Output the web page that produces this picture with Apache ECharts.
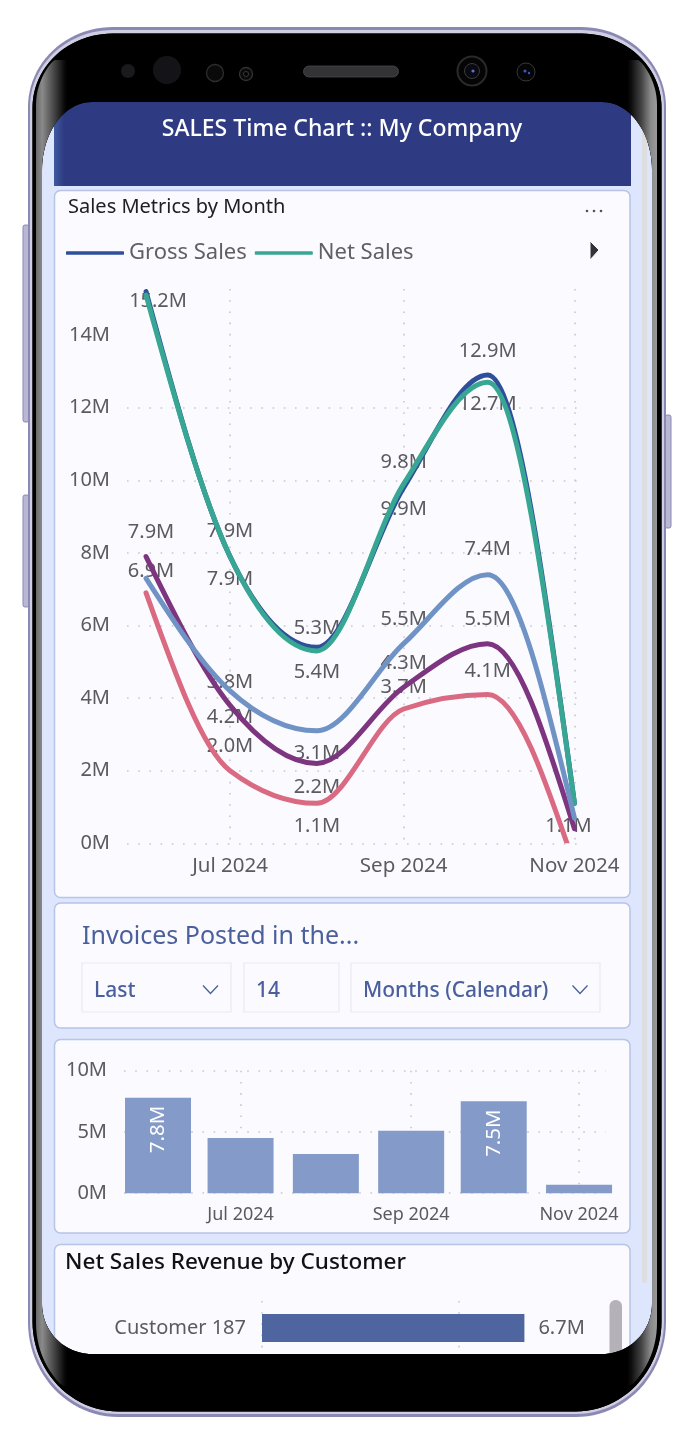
<!DOCTYPE html>
<html><head><meta charset="utf-8">
<script src="https://cdn.jsdelivr.net/npm/echarts@6/dist/echarts.min.js"></script>
<style>html,body{margin:0;background:#fff}#c{width:694px;height:1456px}</style></head>
<body><div id="c"></div>
<script>
// ---------- data ----------
const monthDates = ['2024-06-01','2024-07-01','2024-08-01','2024-09-01','2024-10-01','2024-11-01'];
const monthLabels = ['Jun 2024','Jul 2024','Aug 2024','Sep 2024','Oct 2024','Nov 2024'];
const shownMonths = ['2024-07-01','2024-09-01','2024-11-01'];
const grossSales = [15.2, 7.9, 5.4, 9.8, 12.9, 1.1];
const netSales   = [15.1, 7.9, 5.3, 9.9, 12.7, 1.1];
const metricC    = [7.3, 4.2, 3.1, 5.5, 7.4, 0.7];
const metricD    = [7.9, 3.8, 2.2, 4.3, 5.5, 0.4];
const metricE    = [6.9, 2.0, 1.1, 3.7, 4.1, -0.6];
const invoiceTotals = [7.8, 4.5, 3.2, 5.1, 7.5, 0.7];
const customers = ['Customer 187'];
const customerRevenue = [6.66];
const yTicksMain = [0,2,4,6,8,10,12,14];

// ---------- layout (label placement, px from the point; null = no label) ----------
const offGross = [[12,9],[0,-26],[0,24],[0,-26],[0,-25],[-6,22]];
const offNet   = [null,[0,22],[0,-24],[0,24],[0,21],null];
const offC     = [null,[0,25],[0,22],[0,-25],[0,-26],null];
const offD     = [[5,-25],[0,-24],[0,23],[0,-25],[0,-25],null];
const offE     = [[5,-23],[0,-25],[0,22],[0,-23],[0,-24],null];
const LABEL_DY = 1;

const FONT = '"Noto Sans"';
const DAY = 86400000;
// the x axes are continuous: a month sits at its day number counted from the first month
const dayOf = d => (Date.parse(d + 'T00:00:00Z') - Date.parse(monthDates[0] + 'T00:00:00Z')) / DAY;
const ts = monthDates.map(dayOf);
const tsShown = shownMonths.map(dayOf);
const labelOf = v => { const i = ts.indexOf(+v); return i >= 0 ? monthLabels[i] : ''; };
const fmt = v => v.toFixed(1) + 'M';
const dotted = {show:true, lineStyle:{type:[1.6,9.6], color:'#c5c7d6', width:1.6}};

// monotone-x cubic through the points, in pixels obtained from the axes
function monotonePath(p){
  const n = p.length, sign = v => v < 0 ? -1 : 1, t = new Array(n);
  const s = i => (p[i+1][1]-p[i][1])/(p[i+1][0]-p[i][0]);
  for (let i=1;i<n-1;i++){
    const h0=p[i][0]-p[i-1][0], h1=p[i+1][0]-p[i][0], s0=s(i-1), s1=s(i), q=(s0*h1+s1*h0)/(h0+h1);
    t[i]=(sign(s0)+sign(s1))*Math.min(Math.abs(s0),Math.abs(s1),0.5*Math.abs(q)) || 0;
  }
  t[0]=(3*s(0)-t[1])/2; t[n-1]=(3*s(n-2)-t[n-2])/2;
  let d='M'+p[0][0]+' '+p[0][1];
  for (let i=0;i<n-1;i++){
    const dx=(p[i+1][0]-p[i][0])/3;
    d+=' C'+(p[i][0]+dx)+' '+(p[i][1]+dx*t[i])+' '+(p[i+1][0]-dx)+' '+(p[i+1][1]-dx*t[i+1])+' '+p[i+1][0]+' '+p[i+1][1];
  }
  return d;
}

function metricSeries(name, values, color, offs, z){
  const points = values.map((v,i)=>[ts[i],v]);
  return [
    { // carries the legend entry and the value labels; the curve itself is drawn by the custom series
      type:'line', name, xAxisIndex:0, yAxisIndex:0, z:2,
      symbol:'circle', symbolSize:1, showSymbol:true, clip:true,
      itemStyle:{color}, lineStyle:{width:0,opacity:0},
      data: points.map((pt,i)=>{
        const o = offs[i];
        return {value:pt, label: o ? {show:true, position:'inside', offset:[o[0],o[1]+LABEL_DY], formatter:fmt(pt[1]),
          fontFamily:FONT, fontSize:20, color:'#5a5a5f'} : {show:false}};
      })
    },
    {
      type:'custom', name:name+' curve', xAxisIndex:0, yAxisIndex:0, z, clip:true, silent:true,
      encode:{x:0,y:1}, data:points,
      renderItem:(params,api)=>{
        if (params.dataIndex!==0) return;
        return {type:'path', shape:{pathData:monotonePath(points.map(q=>api.coord(q)))},
          style:{fill:null,stroke:color,lineWidth:5,lineCap:'round',lineJoin:'round'}};
      }
    }
  ];
}

// ---------- phone chrome helpers ----------
function rr(x,y,w,h,rxT,ryT,rxB,ryB){
  rxB = rxB==null?rxT:rxB; ryB = ryB==null?ryT:ryB;
  const pts=[], N=24, arc=(cx,cy,rx,ry,a0)=>{for(let i=0;i<=N;i++){const a=a0+i/N*Math.PI/2;pts.push([cx+rx*Math.cos(a),cy+ry*Math.sin(a)]);}};
  arc(x+rxT,y+ryT,rxT,ryT,Math.PI);
  arc(x+w-rxT,y+ryT,rxT,ryT,1.5*Math.PI);
  arc(x+w-rxB,y+h-ryB,rxB,ryB,0);
  arc(x+rxB,y+h-ryB,rxB,ryB,.5*Math.PI);
  return pts;
}
const keyhole=(o,h)=>{const r=h.slice().reverse();return o.concat([o[0]],r,[r[0]],[o[0]]);};
const clampY=(p,a,b)=>p.map(q=>[q[0],Math.min(b,Math.max(a,q[1]))]);
const poly=(points,fill,extra)=>Object.assign({type:'polygon',shape:{points},style:{fill}},extra||{});
const box=(x,y,w,h,r,fill,stroke,lw)=>({type:'rect',shape:{x,y,width:w,height:h,r},style:{fill,stroke:stroke||null,lineWidth:lw||0}});
const circ=(cx,cy,r,fill,stroke,lw)=>({type:'circle',shape:{cx,cy,r},style:{fill,stroke:stroke||null,lineWidth:lw||0}});
const txt=(t,x,y,size,fill,extra)=>({type:'text',style:Object.assign({text:t,x,y,fontFamily:FONT,fontSize:size,fill,textAlign:'left',textVerticalAlign:'middle'},extra||{})});
const chev=(x,y)=>({type:'polyline',shape:{points:[[x,y],[x+7.5,y+8],[x+15,y]]},style:{stroke:'#4a5f9c',lineWidth:1.3,fill:null}});

const screen = rr(42,102,610,1252,50,68,50,50);
const blackBody = rr(32.5,33.5,629,1378,80,74,86,90);
const hGrad = {type:'linear',x:0,y:0,x2:1,y2:0,colorStops:[
  {offset:0,color:'#6a6a6a'},{offset:.01,color:'#8a8a8a'},{offset:.025,color:'#555'},{offset:.045,color:'#0c0c0c'},{offset:.05,color:'#000'},
  {offset:.952,color:'#000'},{offset:.958,color:'#0c0c0c'},{offset:.975,color:'#444'},{offset:.99,color:'#8a8a8a'},{offset:1,color:'#9a9a9a'}]};
const BTN='#b9b8d4', EDGE='#8b89b4';
const chrome = [
  box(23,225,6,197,2,BTN,EDGE,1), box(23,495,6,112,2,BTN,EDGE,1), box(665,415,6,113,2,BTN,EDGE,1),
  poly(rr(28,27,638,1390,85,80,90,95),EDGE),
  poly(rr(30,30,634,1384,83,77,88,93),'#cfcfe3'),
  poly(blackBody,'#000'),
  poly(screen,'#dde6fd'),
  box(642,115,5,1168,2.5,'#dedede'),
  box(54,98,577,88,0,'#2e3b82'),
  {type:'rect',shape:{x:54,y:98,width:10,height:88},style:{fill:{type:'linear',x:0,y:0,x2:1,y2:0,colorStops:[{offset:0,color:'#3f5a9f'},{offset:1,color:'#2e3b82'}]}}},
  box(54.5,190.5,575.5,707,6,'#fafaff','#b8c4e6',1.5),
  box(54.5,903,575.5,125,6,'#fafaff','#b8c4e6',1.5),
  box(54.5,1039.5,575.5,193.5,6,'#fafaff','#b8c4e6',1.5),
  box(54.5,1244.5,575.5,130,6,'#fafaff','#b8c4e6',1.5),
  box(82,963,149,49,0,'#fafaff','#e9e9f1',1.2),
  box(244,963,95,49,0,'#fafaff','#e9e9f1',1.2),
  box(351,963,249,49,0,'#fafaff','#e9e9f1',1.2),
  chev(203,985.5), chev(572.5,985.5),
  box(609.5,1300,12.5,80,6,'#b4b2b8'),
  poly(keyhole(blackBody,screen),'#000'),
  poly(keyhole(clampY(rr(36,35,621,1374,76,70,82,86),60,1386),screen),hGrad),
  // front sensors
  circ(128,71,7,'#1a1a1e'), circ(167,70,14,'#141418'),
  circ(215,73,8.5,'#0a0a0a','#2e2e30',1.3), circ(246,74,6.5,'#0a0a0a','#333',1.3), circ(246,74,2.5,'#000','#3a3a3a',1),
  box(303.5,66,95,11,5.5,'#333335','#4a4a4c',.8),
  circ(472,71,14.5,'#050505','#2a2a2c',2), circ(472,71,7.5,'#0a0a10','#3a3a40',1), circ(473,71,1.6,'#5a72d8'),
  circ(526,72,9,'#050505','#38383c',1), circ(525,71,1.6,'#3d55c4'), circ(529,73,1.2,'#3d55c4'),
  // texts of the report page
  txt('SALES Time Chart :: My Company',342,129.5,23,'#ffffff',{textAlign:'center',fontWeight:500}),
  txt('Sales Metrics by Month',68,207,20,'#202024'),
  circ(587,211,1.3,'#555'), circ(594,211,1.3,'#555'), circ(601,211,1.3,'#555'),
  poly([[590,241],[599,250],[590,260]],'#333338',{style:{fill:'#333338',stroke:'#fff',lineWidth:1}}),
  txt('Invoices Posted in the...',82,936.5,25,'#4a5f9c'),
  txt('Last',94,991.5,21,'#4a5f9c',{fontWeight:500}),
  txt('14',256,991.5,21,'#4a5f9c',{fontWeight:500}),
  txt('Months (Calendar)',363,991.5,21,'#4a5f9c',{fontWeight:500}),
  txt('Net Sales Revenue by Customer',65,1263,22.5,'#111115',{fontWeight:500})
];

// ---------- chart ----------
const axisText = (s)=>({fontFamily:FONT,fontSize:s,color:'#5a5a5f'});
const noLine = {axisLine:{show:false},axisTick:{show:false}};
const option = {
  animation:false,
  backgroundColor:'#fff',
  graphic:{elements:chrome, z:-1},
  legend:{data:['Gross Sales','Net Sales'],left:66,top:242,itemWidth:58,itemHeight:3.6,itemGap:8,icon:'roundRect',
    padding:0,textStyle:{fontFamily:FONT,fontSize:22,color:'#5f5f64'}},
  grid:[
    {left:127,top:289,width:455,height:554.3},
    {left:124,top:1070.7,width:482,height:122.5},
    {left:262,top:1301,width:354.6,height:54}
  ],
  xAxis:[
    {type:'value',gridIndex:0,min:-6.8,max:ts[5]+2.7,...noLine,
      axisLabel:{...axisText(20.5),customValues:tsShown,formatter:labelOf,margin:12,hideOverlap:false},
      axisTick:{show:false,customValues:tsShown},splitLine:dotted},
    {type:'value',gridIndex:1,min:-12.36,max:ts[5]+9.8,...noLine,
      axisLabel:{...axisText(18),customValues:tsShown,formatter:labelOf,margin:12.5,hideOverlap:false},
      axisTick:{show:false,customValues:tsShown},splitLine:dotted},
    {type:'value',gridIndex:2,min:0,max:9,interval:5,...noLine,axisLabel:{show:false},
      splitLine:{...dotted,showMaxLine:false}}
  ],
  yAxis:[
    {type:'value',gridIndex:0,min:0,max:15.27,interval:2,...noLine,
      axisLabel:{...axisText(20),customValues:yTicksMain,formatter:v=>v+'M',margin:17,padding:[4,0,0,0]},
      axisTick:{show:false,customValues:yTicksMain},splitLine:{...dotted,showMaxLine:false}},
    {type:'value',gridIndex:1,min:0,max:10,interval:5,...noLine,
      axisLabel:{...axisText(20),formatter:v=>v+'M',margin:17,padding:[4,0,0,0]},splitLine:dotted},
    {type:'category',gridIndex:2,data:customers,inverse:true,...noLine,
      axisLabel:{...axisText(20),margin:16,padding:[7,0,0,0]},splitLine:{show:false}}
  ],
  series:[
    ...metricSeries('Gross Sales',grossSales,'#2f4f9b',offGross,3),
    ...metricSeries('Net Sales',netSales,'#37a794',offNet,4),
    ...metricSeries('Metric E',metricE,'#d96a82',offE,5),
    ...metricSeries('Metric D',metricD,'#7d3580',offD,6),
    ...metricSeries('Metric C',metricC,'#6f93c5',offC,7),
    {type:'bar',name:'Invoices',xAxisIndex:1,yAxisIndex:1,barWidth:66,clip:false,
      itemStyle:{color:'#849ac9'},
      data:invoiceTotals.map((v,i)=>[ts[i],v]),
      label:{show:true,position:'insideTop',distance:8,rotate:90,align:'right',verticalAlign:'middle',
        fontFamily:FONT,fontSize:20.5,color:'#fff',
        formatter:p=>p.value[1]>=7?fmt(p.value[1]):''}},
    {type:'bar',name:'Net Sales Revenue',xAxisIndex:2,yAxisIndex:2,barWidth:28,
      itemStyle:{color:'#4e659f'},data:customerRevenue,
      label:{show:true,position:'right',distance:14,fontFamily:FONT,fontSize:20,color:'#5a5a5f',padding:[3,0,0,0],formatter:p=>fmt(p.value)}}
  ]
};
const chart = echarts.init(document.getElementById('c'),null,{renderer:'canvas'});
chart.setOption(option);
</script>
</body></html>
